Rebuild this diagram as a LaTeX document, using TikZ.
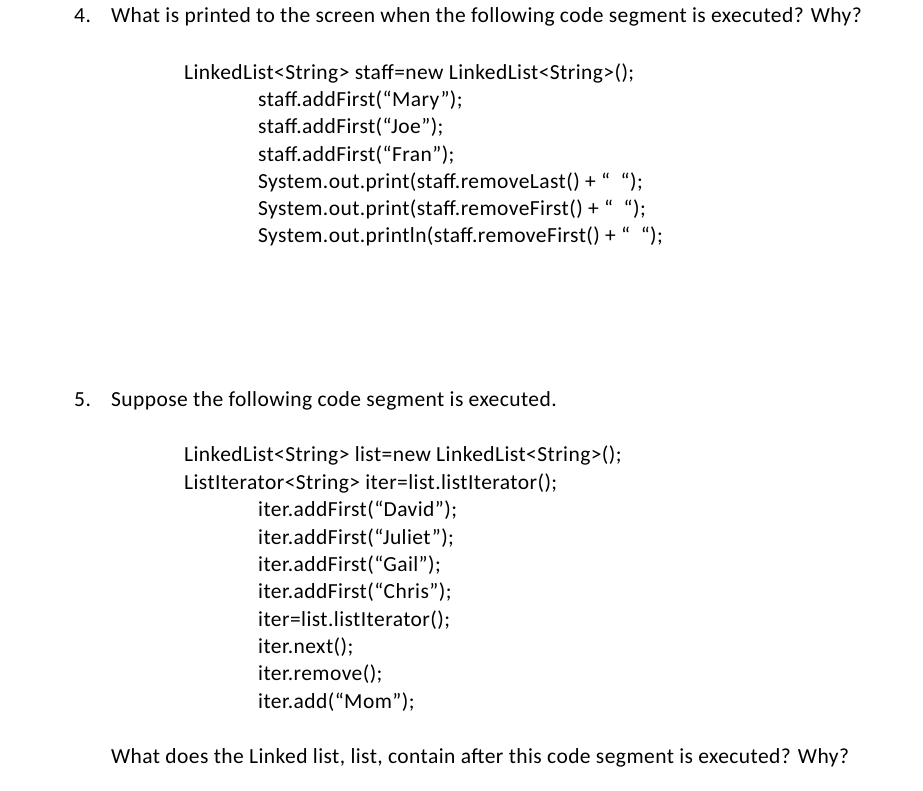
\documentclass[tikz,border=0pt]{standalone}
\usepackage{fontspec}
\setmainfont{Carlito}[LetterSpace=2]
\begin{document}
\begin{tikzpicture}[x=1pt,y=-1pt,
  t/.style={anchor=base west,inner sep=0pt,font=\fontsize{21.5}{24}\selectfont}]
\useasboundingbox[fill=white] (0,0) rectangle (923,790);
\node[t] (n4) at (74,22) {4.};
\node[t] (q4) at (111,22) {What is printed to the screen when the following code segment is executed? Why?};
\node[t] (a1) at (184,79) {LinkedList<String> staff=new LinkedList<String>();};
\node[t] (a2) at (258,106) {staff.addFirst(“Mary”);};
\node[t] (a3) at (258,133) {staff.addFirst(“Joe”);};
\node[t] (a4) at (258,161) {staff.addFirst(“Fran”);};
\node[t] (a5) at (258,188) {System.out.print(staff.removeLast() + “\ \ “);};
\node[t] (a6) at (258,215) {System.out.print(staff.removeFirst() + “\ \ “);};
\node[t] (a7) at (258,242) {System.out.println(staff.removeFirst() + “\ \ “);};
\node[t] (n5) at (74,406) {5.};
\node[t] (q5) at (111,406) {Suppose the following code segment is executed.};
\node[t] (b1) at (184,461) {LinkedList<String> list=new LinkedList<String>();};
\node[t] (b2) at (184,489) {ListIterator<String> iter=list.listIterator();};
\node[t] (b3) at (258,516) {iter.addFirst(“David”);};
\node[t] (b4) at (258,544) {iter.addFirst(“Juliet”);};
\node[t] (b5) at (258,571) {iter.addFirst(“Gail”);};
\node[t] (b6) at (258,598) {iter.addFirst(“Chris”);};
\node[t] (b7) at (258,626) {iter=list.listIterator();};
\node[t] (b8) at (258,653) {iter.next();};
\node[t] (b9) at (258,680) {iter.remove();};
\node[t] (b10) at (258,708) {iter.add(“Mom”);};
\node[t] (q6) at (111,763) {What does the Linked list, list, contain after this code segment is executed? Why?};
\end{tikzpicture}
\end{document}
